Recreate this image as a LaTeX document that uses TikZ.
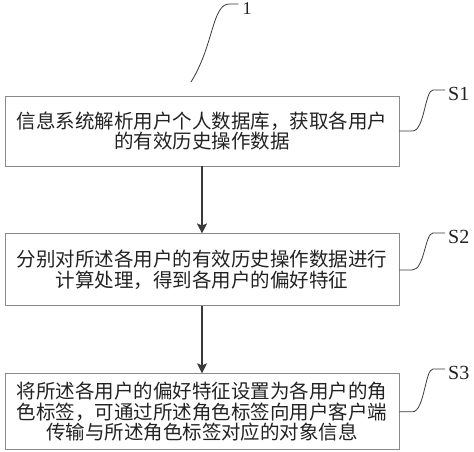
\documentclass[tikz,border=0pt]{standalone}
\usepackage{fontspec}
\setmainfont{Liberation Serif}
\newfontfamily\cjk{Noto Sans CJK SC}
\usepackage{xcolor}
\definecolor{ink}{HTML}{222222}
\definecolor{frame}{HTML}{8A8A8A}
\definecolor{wire}{HTML}{3A3A3A}
\usepackage{tikz}
\usetikzlibrary{arrows.meta, positioning}
\tikzset{
  >={Stealth[length=10pt, width=10pt, inset=2pt]},
  stepbox/.style={draw=frame, line width=0.9pt, align=center, text=ink, minimum width=394pt,
    inner sep=5pt, font=\cjk\fontsize{19.5}{20.5}\selectfont},
  flow/.style={->, line width=1.4pt, color=wire},
  lead/.style={line width=0.8pt, color=wire},
  steplabel/.style={inner sep=0pt, text=ink, font=\fontsize{20}{22}\selectfont},
}

\begin{document}
\begin{tikzpicture}[x=1pt, y=1pt, node distance=67pt]
  \useasboundingbox (0,0) rectangle (474,-451);

  \node[stepbox, minimum height=70pt] (s1box) at (202,-131)
    {信息系统解析用户个人数据库，获取各用户\\的有效历史操作数据};
  \node[stepbox, minimum height=72pt, below=of s1box] (s2box)
    {分别对所述各用户的有效历史操作数据进行\\计算处理，得到各用户的偏好特征};
  \node[stepbox, minimum height=76pt, below=of s2box] (s3box)
    {将所述各用户的偏好特征设置为各用户的角\\色标签，可通过所述角色标签向用户客户端\\传输与所述角色标签对应的对象信息};

  \draw[flow] (s1box) -- (s2box);
  \draw[flow] (s2box) -- (s3box);

  % step labels
  \node[steplabel, anchor=west] (s1tag) at (448,-94) {S1};
  \node[steplabel, anchor=west] (s2tag) at (448,-237) {S2};
  \node[steplabel, anchor=west] (s3tag) at (448,-373) {S3};

  \draw[lead] (s1box.east) -- ++(13,0) .. controls +(12,0) and +(-8,0) ..
    ([shift={(-15,4)}]s1tag.west) -- ([shift={(-3,4)}]s1tag.west);
  \draw[lead] (s2box.east) -- ++(13,0) .. controls +(12,0) and +(-8,0) ..
    ([shift={(-15,4)}]s2tag.west) -- ([shift={(-3,4)}]s2tag.west);
  \draw[lead] (s3box.east) -- ++(13,0) .. controls +(12,0) and +(-8,0) ..
    ([shift={(-15,4)}]s3tag.west) -- ([shift={(-3,4)}]s3tag.west);

  % figure number
  \node[steplabel, font=\fontsize{18}{20}\selectfont] (fig) at (247,-9) {1};
  \coordinate (figtail) at (191,-82);
  \draw[lead] (figtail) .. controls (214,-45) and (212,-4) ..
    ([shift={(-13,5)}]fig.west) -- ([shift={(-4,5)}]fig.west);
\end{tikzpicture}
\end{document}
